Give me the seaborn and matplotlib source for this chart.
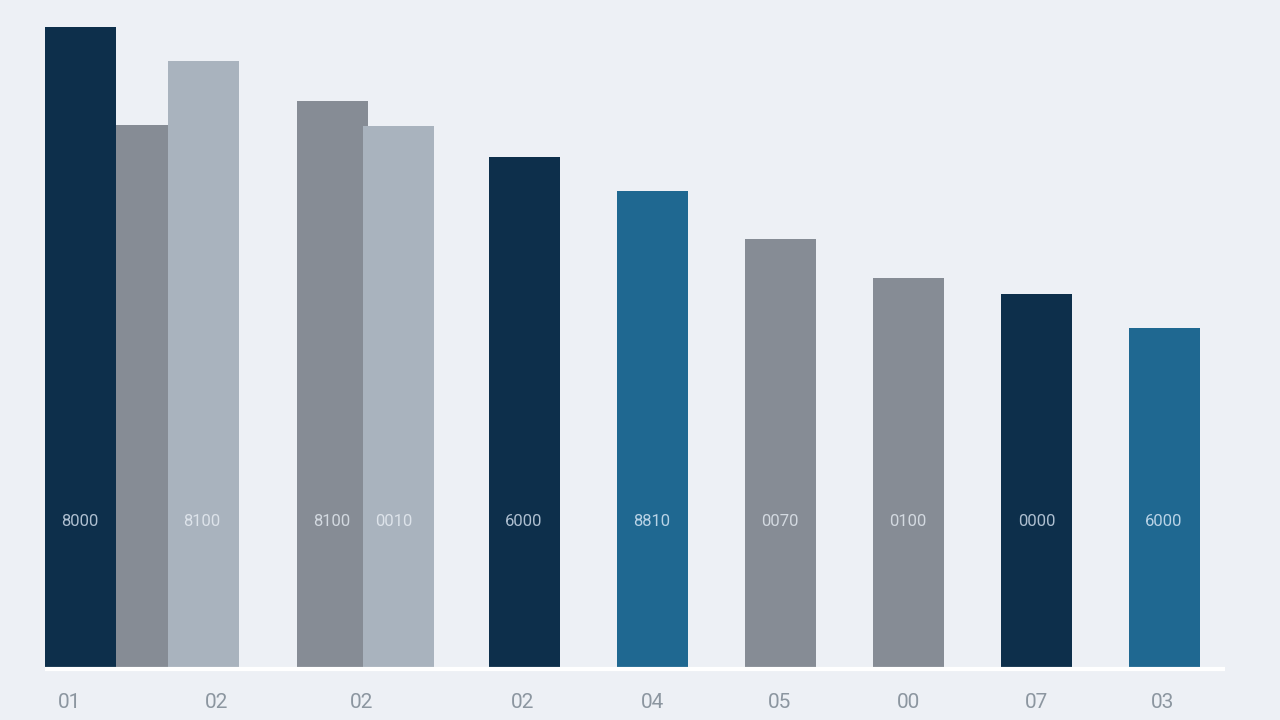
import matplotlib
matplotlib.use("Agg")
import matplotlib.pyplot as plt
import seaborn as sns
import pandas as pd

# bar data (left to right)
bar_ids = ["b1", "b2", "b3", "b4", "b5", "b6", "b7", "b8", "b9", "b10", "b11"]
values = [100.0, 84.7, 94.7, 88.4, 84.5, 79.7, 74.4, 66.9, 60.8, 58.3, 53.0]
bar_texts = ["8000", "", "8100", "8100", "0010", "6000", "8810", "0070", "0100", "0000", "6000"]
tick_labels = ["01", "02", "02", "02", "04", "05", "00", "07", "03"]

# layout (x in pixel-like units)
bar_pos = [80.5, 151.5, 203, 332.5, 398, 524, 652, 780.5, 908.5, 1036, 1164]
text_pos = [80, 151.5, 202, 332, 394, 524, 652, 780, 908, 1037, 1164]
tick_pos = [70, 217, 362, 523, 652, 780, 908, 1036, 1163]

NAVY = "#0d2f4b"
GRAY = "#868c95"
LIGHT = "#a9b3be"
BLUE = "#1f6891"
bar_colors = [NAVY, GRAY, LIGHT, GRAY, LIGHT, NAVY, BLUE, GRAY, GRAY, NAVY, BLUE]
text_colors = {NAVY: "#aebfd0", GRAY: "#d3d9e0", LIGHT: "#dde3ea", BLUE: "#b9d3e6"}

BG = "#edf0f5"

sns.set_theme(style="white")
plt.rcParams['font.family'] = ['Roboto', 'DejaVu Sans']

df = pd.DataFrame({"pos": bar_pos, "value": values, "bar": bar_ids})

fig = plt.figure(figsize=(12.8, 7.2), dpi=100, facecolor=BG)
ax = fig.add_axes([0, 53 / 720, 1, 667 / 720])
ax.set_facecolor(BG)

sns.barplot(data=df, x="pos", y="value", hue="bar", hue_order=bar_ids,
            palette=dict(zip(bar_ids, bar_colors)), native_scale=True,
            dodge=False, width=71 / 51.5, legend=False, saturation=1,
            linewidth=0, ax=ax)

ax.set_xlim(0, 1280)
ax.set_ylim(0, 667 / 6.4)

# value labels inside bars
label_y = 146 / 6.4
for x, t, c in zip(text_pos, bar_texts, bar_colors):
    if t:
        ax.text(x, label_y, t, ha="center", va="center", fontsize=12,
                color=text_colors[c], zorder=5)

# white baseline
ax.plot([45, 1225], [-0.35, -0.35], color="white", lw=3, clip_on=False,
        solid_capstyle="butt", zorder=4)

ax.set_xticks(tick_pos)
ax.set_xticklabels(tick_labels, fontsize=15, color="#8c96a0")
ax.tick_params(axis="x", length=0, pad=19)
ax.set_yticks([])
ax.set_xlabel("")
ax.set_ylabel("")
sns.despine(ax=ax, left=True, bottom=True)

fig.savefig("out.png", dpi=100, facecolor=BG)
